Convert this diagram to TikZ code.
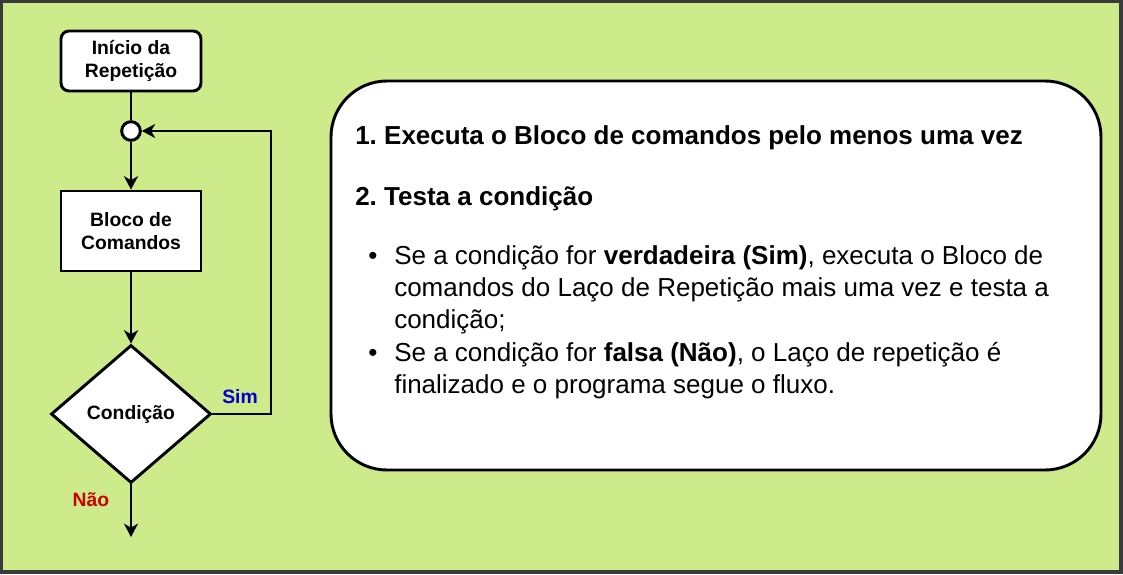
\documentclass[tikz,border=0pt]{standalone}
\usepackage{fontspec}
\setmainfont{Liberation Sans}
\usetikzlibrary{shapes.geometric,arrows.meta}
\definecolor{fundo}{RGB}{205,235,139}
\definecolor{moldura}{RGB}{58,58,58}
\definecolor{simazul}{RGB}{0,0,204}
\definecolor{naovermelho}{RGB}{204,0,0}
\frenchspacing

\begin{document}
\begin{tikzpicture}[x=0.75pt,y=-0.75pt,
    caixa/.style={draw,fill=white,line width=2.2pt,minimum width=105pt,align=center,font=\fontsize{14.5}{17.5}\selectfont\bfseries},
    seta/.style={line width=2.2pt,-{Stealth[length=10pt,width=10.5pt,inset=3pt]}},
    rotulo/.style={font=\fontsize{14.5}{17.5}\selectfont\bfseries},
    texto/.style={anchor=base west,inner sep=0pt,font=\fontsize{19.5}{24}\selectfont}]
        \useasboundingbox (0,0) rectangle (1123,574);

        % Fundo e moldura
        \fill[moldura] (0,0) rectangle (1123,574);
        \fill[fundo] (3,3) rectangle (1119,570);

        % Fluxograma
        \node[caixa,rounded corners=6pt,minimum height=45pt] (inicio) at (131,61) {Início da\\Repetição};
        \node[circle,draw,fill=white,line width=2.2pt,minimum size=14pt,inner sep=0pt] (juncao) at (131,131) {};
        \node[caixa,minimum height=60pt] (bloco) at (131,231) {Bloco de\\Comandos};
        \node[caixa,diamond,aspect=1.16,minimum width=120pt,minimum height=103.5pt,inner sep=0pt] (cond) at (131,414) {Condição};
        \coordinate (saida) at (131,537);
        \coordinate (retorno) at (271,131);

        % Setas
        \draw[line width=2.2pt] (inicio) -- (juncao);
        \draw[seta] (juncao) -- (bloco);
        \draw[seta] (bloco) -- (cond);
        \draw[seta] (cond) -- (saida);
        \draw[seta,line join=miter] (cond.east) -| (retorno) -- (juncao.east);

        % Rotulos
        \node[rotulo,text=simazul] (sim) at (240,397) {Sim};
        \node[rotulo,text=naovermelho] (nao) at (91,500) {Não};

        % Quadro de explicacao
        \node[draw,fill=white,line width=2.2pt,rounded corners=42pt,minimum width=577.5pt,minimum height=291.75pt] (painel) at (716,275.5) {};
        \node[texto] (passo1) at (355,145) {\bfseries 1. Executa o Bloco de comandos pelo menos uma vez};
        \node[texto] (passo2) at (355,205) {\bfseries 2. Testa a condição};
        \node[texto,anchor=base] (marca1) at (373,264) {\textbullet};
        \node[texto] (sim1) at (394,264) {Se a condição for \textbf{verdadeira (Sim)}, executa o Bloco de};
        \node[texto] (sim2) at (394,296) {comandos do Laço de Repetição mais uma vez e testa a};
        \node[texto] (sim3) at (394,328) {condição;};
        \node[texto,anchor=base] (marca2) at (373,361) {\textbullet};
        \node[texto] (nao1) at (394,361) {Se a condição for \textbf{falsa (Não)}, o Laço de repetição é};
        \node[texto] (nao2) at (394,393) {finalizado e o programa segue o fluxo.};
    \end{tikzpicture}
\end{document}
